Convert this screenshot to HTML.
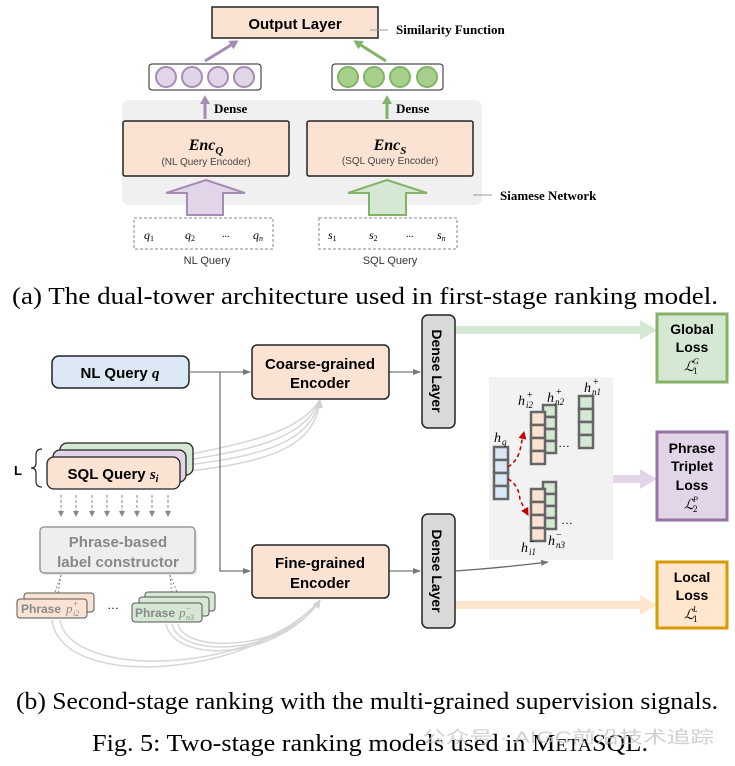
<!DOCTYPE html>
<html><head><meta charset="utf-8"><style>
html,body{margin:0;padding:0;background:#fff;}
svg{display:block;}
.s{font-family:"Liberation Sans",sans-serif;}
.r{font-family:"Liberation Serif",serif;}
</style></head><body>
<svg width="735" height="766" viewBox="0 0 735 766" xmlns="http://www.w3.org/2000/svg">
<defs>
<marker id="ag" markerWidth="8" markerHeight="8" refX="7" refY="4" orient="auto" markerUnits="userSpaceOnUse"><path d="M0,1 L8,4 L0,7 Z" fill="#777"/></marker>
<marker id="al" markerWidth="10" markerHeight="10" refX="8" refY="5" orient="auto" markerUnits="userSpaceOnUse"><path d="M0,1 L9,5 L0,9 Z" fill="#d0d0d0"/></marker>
<marker id="ar" markerWidth="8" markerHeight="8" refX="7" refY="4" orient="auto" markerUnits="userSpaceOnUse"><path d="M0,0 L8,4 L0,8 Z" fill="#c00000"/></marker>
<marker id="ap" markerWidth="10" markerHeight="10" refX="6" refY="5" orient="auto" markerUnits="userSpaceOnUse"><path d="M0,0 L9,5 L0,10 Z" fill="#a68bb5"/></marker>
<marker id="agr" markerWidth="10" markerHeight="10" refX="6" refY="5" orient="auto" markerUnits="userSpaceOnUse"><path d="M0,0 L9,5 L0,10 Z" fill="#82b366"/></marker>
</defs>

<rect x="122" y="100" width="360" height="105" rx="7" fill="#f0f0f0"/>
<rect x="212" y="7" width="166" height="31" fill="#fbe3d4" stroke="#222" stroke-width="1.5"/>
<text x="295" y="29" class="s" font-size="15" font-weight="bold" text-anchor="middle">Output Layer</text>
<line x1="370" y1="30" x2="388" y2="30" stroke="#999" stroke-width="1"/>
<text x="396" y="34" class="r" font-size="13" font-weight="bold">Similarity Function</text>

<line x1="205" y1="61" x2="236" y2="42" stroke="#a68bb5" stroke-width="3" marker-end="url(#ap)"/>
<line x1="386" y1="61" x2="356" y2="42" stroke="#82b366" stroke-width="3" marker-end="url(#agr)"/>

<rect x="149" y="64" width="112" height="26" rx="3" fill="#fff" stroke="#222" stroke-width="1"/>
<g fill="#e1d5e7" stroke="#a68bb5" stroke-width="2">
<circle cx="166" cy="77" r="10"/><circle cx="192" cy="77" r="10"/><circle cx="218" cy="77" r="10"/><circle cx="244" cy="77" r="10"/></g>
<rect x="332" y="64" width="111" height="26" rx="3" fill="#fff" stroke="#222" stroke-width="1"/>
<g fill="#a8d08d" stroke="#82b366" stroke-width="2">
<circle cx="348" cy="77" r="10"/><circle cx="374" cy="77" r="10"/><circle cx="400" cy="77" r="10"/><circle cx="427" cy="77" r="10"/></g>

<line x1="205" y1="119" x2="205" y2="98" stroke="#a68bb5" stroke-width="3" marker-end="url(#ap)"/>
<line x1="387" y1="119" x2="387" y2="98" stroke="#82b366" stroke-width="3" marker-end="url(#agr)"/>
<text x="214" y="113" class="r" font-size="13" font-weight="bold">Dense</text>
<text x="396" y="113" class="r" font-size="13" font-weight="bold">Dense</text>

<rect x="123" y="121" width="166" height="55" rx="2" fill="#fbe3d4" stroke="#222" stroke-width="1.5"/>
<text x="206" y="150" class="r" font-size="16" font-style="italic" font-weight="bold" text-anchor="middle">Enc<tspan font-size="11" dy="4">Q</tspan></text>
<text x="206" y="165" class="s" font-size="10" fill="#444" text-anchor="middle">(NL Query Encoder)</text>
<rect x="307" y="121" width="166" height="55" rx="2" fill="#fbe3d4" stroke="#222" stroke-width="1.5"/>
<text x="390" y="150" class="r" font-size="16" font-style="italic" font-weight="bold" text-anchor="middle">Enc<tspan font-size="11" dy="4">S</tspan></text>
<text x="390" y="164" class="s" font-size="10" fill="#444" text-anchor="middle">(SQL Query Encoder)</text>

<path d="M206,180 L245,193 L223,193 L223,215 L187,215 L187,193 L166,193 Z" fill="#e1d5e7" stroke="#a68bb5" stroke-width="2"/>
<path d="M387,180 L427,193 L406,193 L406,215 L369,215 L369,193 L348,193 Z" fill="#d5e8d4" stroke="#82b366" stroke-width="2"/>

<line x1="473" y1="195" x2="492" y2="195" stroke="#999"/>
<text x="500" y="200" class="r" font-size="13" font-weight="bold">Siamese Network</text>

<rect x="134" y="218" width="139" height="31" fill="none" stroke="#888" stroke-dasharray="3,2"/>
<rect x="319" y="218" width="138" height="31" fill="none" stroke="#888" stroke-dasharray="3,2"/>
<g class="r" font-size="12" font-style="italic">
<text x="144" y="239">q<tspan font-size="8" dy="2" font-style="normal">1</tspan></text>
<text x="185" y="239">q<tspan font-size="8" dy="2" font-style="normal">2</tspan></text>
<text x="222" y="237" font-style="normal" font-size="10">...</text>
<text x="253" y="239">q<tspan font-size="8" dy="2">n</tspan></text>
<text x="328" y="239">s<tspan font-size="8" dy="2" font-style="normal">1</tspan></text>
<text x="369" y="239">s<tspan font-size="8" dy="2" font-style="normal">2</tspan></text>
<text x="406" y="237" font-style="normal" font-size="10">...</text>
<text x="437" y="239">s<tspan font-size="8" dy="2">n</tspan></text>
</g>
<text x="207" y="264" class="s" font-size="11" fill="#333" text-anchor="middle">NL Query</text>
<text x="390" y="264" class="s" font-size="11" fill="#333" text-anchor="middle">SQL Query</text>

<text x="12" y="304" class="r" font-size="24" textLength="706" lengthAdjust="spacingAndGlyphs">(a) The dual-tower architecture used in first-stage ranking model.</text>

<line x1="455" y1="330" x2="640" y2="330" stroke="#d5e8d4" stroke-width="8"/>
<path d="M640,320 L657,330 L640,340 Z" fill="#d5e8d4"/>
<line x1="613" y1="479" x2="640" y2="479" stroke="#e1d5e7" stroke-width="8"/>
<path d="M640,469 L657,479 L640,489 Z" fill="#e1d5e7"/>
<line x1="455" y1="605" x2="640" y2="605" stroke="#ffe6cc" stroke-width="8"/>
<path d="M640,595 L657,605 L640,615 Z" fill="#ffe6cc"/>

<rect x="657" y="314" width="70" height="68" fill="#d5e8d4" stroke="#82b366" stroke-width="3"/>
<text x="692" y="334" class="s" font-size="14" font-weight="bold" text-anchor="middle">Global</text>
<text x="692" y="352" class="s" font-size="14" font-weight="bold" text-anchor="middle">Loss</text>
<text x="684" y="371" class="r" font-size="14" font-style="italic">ℒ</text><text x="693" y="374" class="r" font-size="9">1</text><text x="693" y="364" class="r" font-size="8" font-style="italic">G</text>
<rect x="657" y="432" width="70" height="88" fill="#e1d5e7" stroke="#9673a6" stroke-width="3"/>
<text x="692" y="453" class="s" font-size="14" font-weight="bold" text-anchor="middle">Phrase</text>
<text x="692" y="471" class="s" font-size="14" font-weight="bold" text-anchor="middle">Triplet</text>
<text x="692" y="490" class="s" font-size="14" font-weight="bold" text-anchor="middle">Loss</text>
<text x="684" y="509" class="r" font-size="14" font-style="italic">ℒ</text><text x="693" y="512" class="r" font-size="9">2</text><text x="693" y="502" class="r" font-size="8" font-style="italic">P</text>
<rect x="657" y="562" width="70" height="66" fill="#ffe6cc" stroke="#d79b00" stroke-width="3"/>
<text x="692" y="582" class="s" font-size="14" font-weight="bold" text-anchor="middle">Local</text>
<text x="692" y="600" class="s" font-size="14" font-weight="bold" text-anchor="middle">Loss</text>
<text x="684" y="619" class="r" font-size="14" font-style="italic">ℒ</text><text x="693" y="622" class="r" font-size="9">1</text><text x="693" y="612" class="r" font-size="8" font-style="italic">L</text>

<rect x="489" y="377" width="124" height="183" fill="#f2f2f2"/>
<g stroke="#666" stroke-width="2.5">
<g fill="#dae8f5"><rect x="494" y="447" width="14" height="13"/><rect x="494" y="460" width="14" height="13"/><rect x="494" y="473" width="14" height="13"/><rect x="494" y="486" width="14" height="13"/></g>
<g fill="#d5e8d4"><rect x="543" y="405" width="13" height="12"/><rect x="543" y="417" width="13" height="12"/><rect x="543" y="429" width="13" height="12"/><rect x="543" y="441" width="13" height="12"/></g>
<g fill="#fbe3d4"><rect x="531" y="412" width="14" height="13"/><rect x="531" y="425" width="14" height="13"/><rect x="531" y="438" width="14" height="13"/><rect x="531" y="451" width="14" height="13"/></g>
<g fill="#d5e8d4"><rect x="579" y="396" width="14" height="13"/><rect x="579" y="409" width="14" height="13"/><rect x="579" y="422" width="14" height="13"/><rect x="579" y="435" width="14" height="13"/></g>
<g fill="#d5e8d4"><rect x="543" y="482" width="13" height="12"/><rect x="543" y="494" width="13" height="12"/><rect x="543" y="506" width="13" height="12"/><rect x="543" y="518" width="13" height="11"/></g>
<g fill="#fbe3d4"><rect x="531" y="489" width="14" height="13"/><rect x="531" y="502" width="14" height="13"/><rect x="531" y="515" width="14" height="13"/><rect x="531" y="528" width="14" height="13"/></g>
</g>
<path d="M508,467 Q519,460 521,445 L524,432" fill="none" stroke="#c00000" stroke-width="1.5" stroke-dasharray="4,3" marker-end="url(#ar)"/>
<path d="M508,479 Q519,485 520,500 L528,515" fill="none" stroke="#c00000" stroke-width="1.5" stroke-dasharray="4,3" marker-end="url(#ar)"/>
<g class="r" font-style="italic">
<text x="494" y="442" font-size="14">h</text><text x="502" y="445" font-size="9">q</text>
<text x="518" y="405" font-size="14">h</text><text x="526" y="408" font-size="9">i2</text><text x="527" y="398" font-size="10" font-style="normal">+</text>
<text x="547" y="402" font-size="14">h</text><text x="555" y="405" font-size="9">n2</text><text x="556" y="395" font-size="10" font-style="normal">+</text>
<text x="584" y="392" font-size="14">h</text><text x="592" y="395" font-size="9">n1</text><text x="593" y="385" font-size="10" font-style="normal">+</text>
<text x="521" y="552" font-size="14">h</text><text x="529" y="555" font-size="9">i1</text><text x="529" y="545" font-size="10" font-style="normal">−</text>
<text x="548" y="545" font-size="14">h</text><text x="556" y="548" font-size="9">n3</text><text x="556" y="538" font-size="10" font-style="normal">−</text>
</g>
<text x="558" y="447" class="s" font-size="12">…</text>
<text x="561" y="524" class="s" font-size="12">…</text>

<rect x="422" y="315" width="33" height="113" rx="6" fill="#d9d9d9" stroke="#222" stroke-width="1.5"/>
<text transform="translate(432,371) rotate(90)" class="s" font-size="14" font-weight="bold" text-anchor="middle">Dense Layer</text>
<rect x="422" y="514" width="33" height="114" rx="6" fill="#d9d9d9" stroke="#222" stroke-width="1.5"/>
<text transform="translate(432,571) rotate(90)" class="s" font-size="14" font-weight="bold" text-anchor="middle">Dense Layer</text>
<path d="M455,571 Q500,568 548,562" fill="none" stroke="#666" stroke-width="1.3" marker-end="url(#ag)"/>

<g fill="none" stroke="#d6d6d6" stroke-width="1.5">
<path d="M187,455 C260,440 300,430 320,400"/>
<path d="M187,460 C265,448 305,435 320,400"/>
<path d="M187,465 C270,455 310,440 320,400"/>
<path d="M180,472 C275,462 315,445 320,400" marker-end="url(#al)"/>
<path d="M52,620 C60,690 250,680 320,600"/>
<path d="M60,620 C70,680 255,675 320,600"/>
<path d="M166,624 C175,665 280,660 320,600"/>
<path d="M172,624 C180,660 285,655 320,600"/>
<path d="M178,624 C185,655 290,650 320,600" marker-end="url(#al)"/>
</g>

<rect x="52" y="356" width="137" height="32" rx="7" fill="#dce9f5" stroke="#222" stroke-width="1.5"/>
<text x="120" y="378" class="s" font-size="15" font-weight="bold" text-anchor="middle">NL Query <tspan class="r" font-style="italic">q</tspan></text>
<g stroke="#777" stroke-width="1.3" fill="none">
<line x1="189" y1="372" x2="250" y2="372" marker-end="url(#ag)"/>
<polyline points="220,372 220,571 250,571" marker-end="url(#ag)"/>
<line x1="389" y1="372" x2="420" y2="372" marker-end="url(#ag)"/>
<line x1="389" y1="571" x2="420" y2="571" marker-end="url(#ag)"/>
</g>

<rect x="252" y="345" width="137" height="54" rx="5" fill="#fbe3d4" stroke="#222" stroke-width="1.5"/>
<text x="320" y="369" class="s" font-size="15" font-weight="bold" text-anchor="middle">Coarse-grained</text>
<text x="320" y="388" class="s" font-size="15" font-weight="bold" text-anchor="middle">Encoder</text>
<rect x="252" y="545" width="137" height="53" rx="5" fill="#fbe3d4" stroke="#222" stroke-width="1.5"/>
<text x="320" y="568" class="s" font-size="15" font-weight="bold" text-anchor="middle">Fine-grained</text>
<text x="320" y="588" class="s" font-size="15" font-weight="bold" text-anchor="middle">Encoder</text>

<rect x="60" y="443" width="133" height="32" rx="7" fill="#d5e8d4" stroke="#222" stroke-width="1.3"/>
<rect x="53" y="450" width="133" height="32" rx="7" fill="#e1d5e7" stroke="#222" stroke-width="1.3"/>
<rect x="47" y="457" width="133" height="32" rx="7" fill="#fbe3d4" stroke="#222" stroke-width="1.3"/>
<text x="113" y="479" class="s" font-size="15" font-weight="bold" text-anchor="middle">SQL Query <tspan class="r" font-style="italic">s<tspan font-size="10" dy="3">i</tspan></tspan></text>
<text x="14" y="475" class="s" font-size="13" font-weight="bold">L</text>
<path d="M42,449 Q36,449 36,455 L36,463 Q36,468 31,468 Q36,468 36,473 L36,481 Q36,487 42,487" fill="none" stroke="#222" stroke-width="1.2"/>

<g stroke="#888" stroke-width="1" stroke-dasharray="3,2">
<line x1="61" y1="495" x2="61" y2="512"/><line x1="76" y1="495" x2="76" y2="512"/><line x1="92" y1="495" x2="92" y2="512"/><line x1="107" y1="495" x2="107" y2="512"/><line x1="122" y1="495" x2="122" y2="512"/><line x1="137" y1="495" x2="137" y2="512"/><line x1="152" y1="495" x2="152" y2="512"/><line x1="168" y1="495" x2="168" y2="512"/>
</g>
<g fill="#888"><path d="M58,511 L64,511 L61,517Z"/><path d="M73,511 L79,511 L76,517Z"/><path d="M89,511 L95,511 L92,517Z"/><path d="M104,511 L110,511 L107,517Z"/><path d="M119,511 L125,511 L122,517Z"/><path d="M134,511 L140,511 L137,517Z"/><path d="M149,511 L155,511 L152,517Z"/><path d="M165,511 L171,511 L168,517Z"/></g>

<rect x="42" y="529" width="155" height="46" rx="4" fill="#ccc" opacity="0.5"/>
<rect x="40" y="527" width="155" height="46" rx="4" fill="#eeeeee" stroke="#999" stroke-width="1.5"/>
<text x="118" y="547" class="s" font-size="15" font-weight="bold" fill="#888" text-anchor="middle">Phrase-based</text>
<text x="118" y="567" class="s" font-size="15" font-weight="bold" fill="#888" text-anchor="middle">label constructor</text>
<g stroke="#888" stroke-width="1" stroke-dasharray="2,2" fill="none">
<line x1="61" y1="575" x2="54" y2="595"/><line x1="61" y1="575" x2="58" y2="593"/>
<line x1="170" y1="575" x2="172" y2="595"/><line x1="170" y1="575" x2="177" y2="592"/>
</g>

<rect x="24" y="593" width="70" height="19" rx="3" fill="#fbe3d4" stroke="#555" stroke-width="1"/>
<rect x="17" y="599" width="70" height="19" rx="3" fill="#fbe3d4" stroke="#555" stroke-width="1"/>
<text x="21" y="613" class="s" font-size="12" font-weight="bold" fill="#888">Phrase</text>
<text x="66" y="613" class="r" font-size="13" font-style="italic" fill="#888">p</text><text x="73" y="616" class="r" font-size="8" font-style="italic" fill="#888">i2</text><text x="73" y="607" class="r" font-size="9" fill="#888">+</text>
<text x="107" y="609" class="s" font-size="12">…</text>
<rect x="145" y="592" width="70" height="19" rx="3" fill="#d5e8d4" stroke="#555" stroke-width="1"/>
<rect x="139" y="597" width="70" height="19" rx="3" fill="#d5e8d4" stroke="#555" stroke-width="1"/>
<rect x="132" y="603" width="70" height="19" rx="3" fill="#d5e8d4" stroke="#555" stroke-width="1"/>
<text x="135" y="617" class="s" font-size="12" font-weight="bold" fill="#888">Phrase</text>
<text x="179" y="617" class="r" font-size="13" font-style="italic" fill="#888">p</text><text x="186" y="620" class="r" font-size="8" font-style="italic" fill="#888">n3</text><text x="186" y="611" class="r" font-size="9" fill="#888">−</text>

<text x="16" y="709" class="r" font-size="24" textLength="702" lengthAdjust="spacingAndGlyphs">(b) Second-stage ranking with the multi-grained supervision signals.</text>
<text x="92" y="751" class="r" font-size="24" textLength="556" lengthAdjust="spacingAndGlyphs">Fig. 5: Two-stage ranking models used in M<tspan font-size="18">ETA</tspan>SQL.</text>
<text x="422" y="743" font-family="'Liberation Sans','Noto Sans CJK SC',sans-serif" font-size="17" fill="#c8c8c8" opacity="0.85" textLength="292" lengthAdjust="spacingAndGlyphs">公众号 · AIGC前沿技术追踪</text>
</svg>
</body></html>
